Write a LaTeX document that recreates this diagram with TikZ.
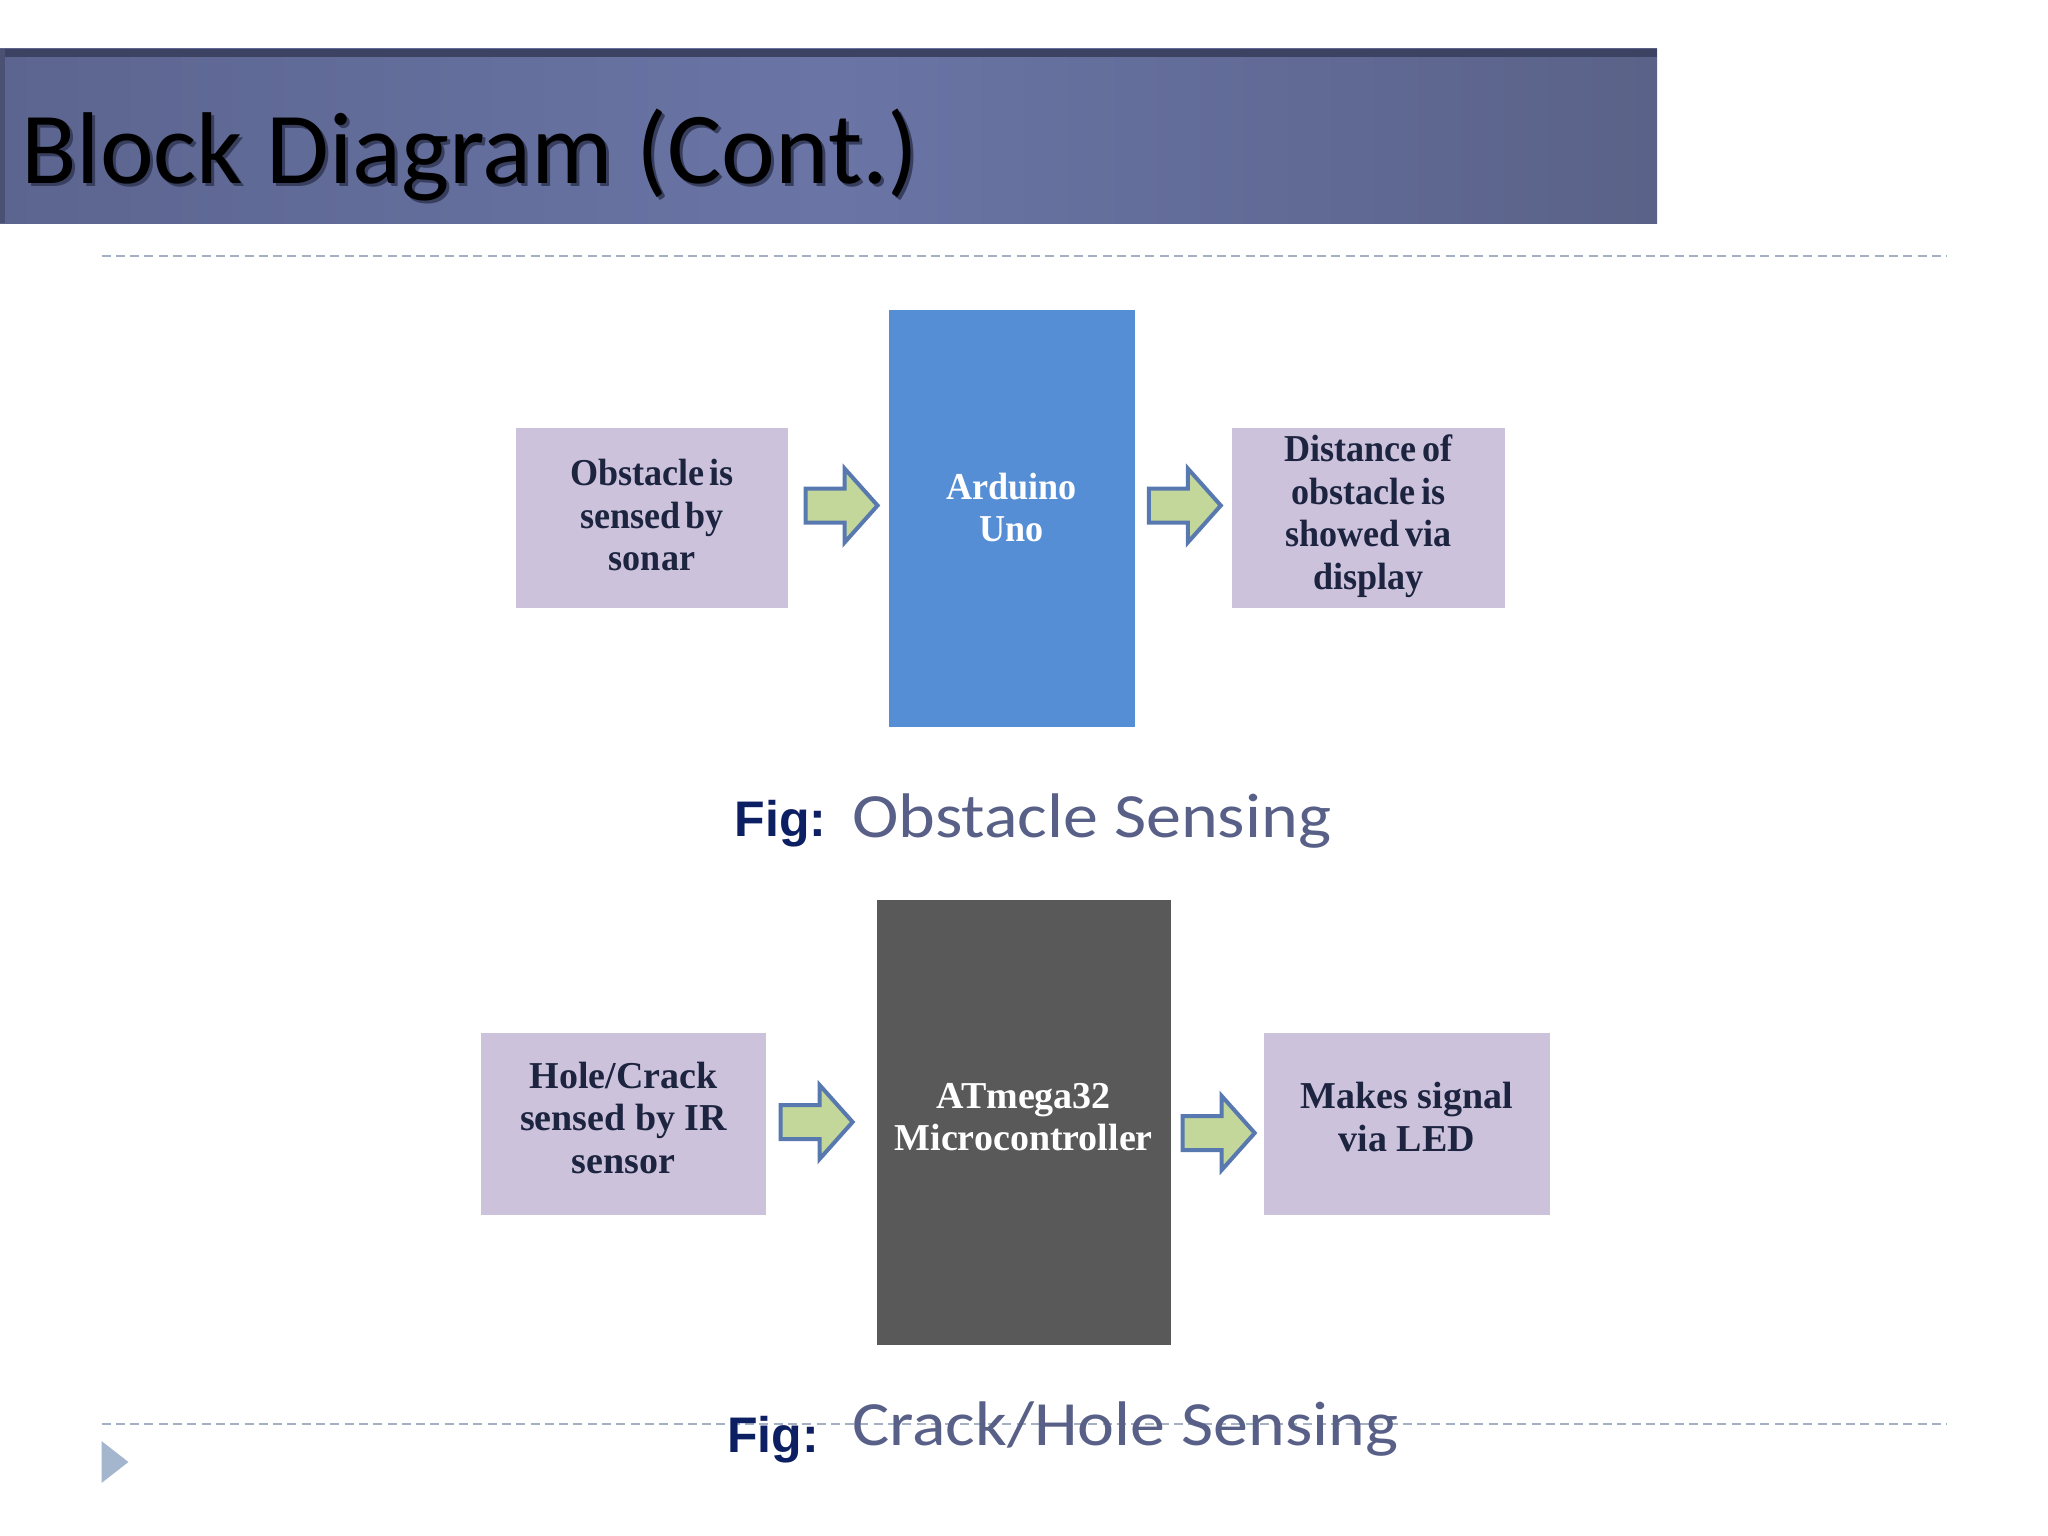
\documentclass[tikz,border=0pt]{standalone}
\usepackage{fontspec}
\setmainfont{Liberation Serif}
\newfontfamily\topserif[FakeStretch=0.95, WordSpace=0.6]{Liberation Serif}
\newfontfamily\calibf{Carlito}
\newfontfamily\arialf{Liberation Sans}
\usetikzlibrary{calc}
\definecolor{barL}{HTML}{5C658F}
\definecolor{barM}{HTML}{6A75A6}
\definecolor{barR}{HTML}{5A6288}
\definecolor{barTop}{HTML}{3C4262}
\definecolor{titleShadow}{HTML}{383E5E}
\definecolor{dashc}{HTML}{A5B1C2}
\definecolor{pinkc}{HTML}{CDC2DC}
\definecolor{boxtxt}{HTML}{1C2440}
\definecolor{ardc}{HTML}{558ED5}
\definecolor{atmc}{HTML}{595959}
\definecolor{arrowfill}{HTML}{C4D79B}
\definecolor{arrowline}{HTML}{5878B0}
\definecolor{figc}{HTML}{0D1F63}
\definecolor{capc}{HTML}{586088}
\definecolor{tric}{HTML}{A3B6CE}
\newcommand\boxfont{\fontsize{38}{42.5}\selectfont\bfseries}
\newcommand\topboxfont{\topserif\fontsize{38}{42.5}\selectfont\bfseries}
\newcommand\lift[1]{\rule[-#1pt]{0pt}{0pt}}
\tikzset{
  pinkbox/.style={fill=pinkc, minimum width=272.7pt, minimum height=180pt,
    align=center, text=boxtxt, font=\boxfont, inner sep=0pt},
  mcubox/.style={minimum width=245.8pt, minimum height=417pt,
    align=center, text=white, font=\boxfont, inner sep=0pt},
  arrowstyle/.style={fill=arrowfill, draw=arrowline, line width=4pt, line join=miter},
  pics/blockarrow/.style={code={
    \draw[arrowstyle] (0,-17) -- (39,-17) -- (39,-37) -- (72,0) -- (39,37) -- (39,17) -- (0,17) -- cycle;}},
  dashline/.style={draw=dashc, line width=2pt, dash pattern=on 9pt off 5.3pt},
  figlbl/.style={anchor=base west, inner sep=0pt, text=figc,
    font=\arialf\bfseries\fontsize{50}{50}\selectfont},
  figttl/.style={anchor=base west, inner sep=0pt, text=capc,
    font=\calibf\fontsize{63}{63}\selectfont},
  titletxt/.style={anchor=base west, inner sep=0pt,
    font=\calibf\fontsize{102}{102}\selectfont}
}
\begin{document}
\begin{tikzpicture}[x=1pt,y=-1pt]
\useasboundingbox (0,0) rectangle (2048,1536);
\fill[white] (0,0) rectangle (2048,1536);

% title bar
\node[minimum width=1657pt, minimum height=174pt, inner sep=0pt,
      left color=barL, right color=barR, middle color=barM] (bar) at (828.5,136) {};
\fill[barTop] (bar.north west) rectangle ($(bar.north east)+(0,8)$);
\fill[barL!80!black] (bar.north west) rectangle ($(bar.south west)+(5,0)$);
\node[titletxt, text=titleShadow] (titlesh) at (24,186) {Block Diagram (Cont.)};
\node[titletxt, text=black] (title) at (21,183) {Block Diagram (Cont.)};

% separators
\draw[dashline] (101.5,256) -- (1947,256);
\draw[dashline] (101.5,1424) -- (1947,1424);

% top diagram
\node[pinkbox, font=\topboxfont] (obs) at (652,518) {Obstacle is\\sensed by\\sonar\lift{6}};
\node[mcubox, fill=ardc, font=\topboxfont] (ard) at (1011.7,518.5) {Arduino\\Uno\lift{22}};
\node[pinkbox, font=\topboxfont] (dist) at (1368.5,518) {Distance of\\obstacle is\\showed via\\display\lift{12}};
\pic at ($(obs.east)+(17,-12.5)$) {blockarrow};
\pic at ($(ard.east)+(14,-13)$) {blockarrow};

\node[figlbl] (fig1) at (734.5,836) {Fig:};
\node[figttl] (cap1) at (852,837) {\scalebox{1.112}[1]{Obstacle Sensing}};

% bottom diagram
\node[pinkbox, minimum width=285.6pt, minimum height=182pt] (hole) at (623.6,1124) {Hole/Crack\\sensed by IR\\sensor\lift{13}};
\node[mcubox, fill=atmc, minimum width=293.6pt, minimum height=445pt] (atm) at (1023.7,1122.5) {ATmega32\\Microcontroller\lift{11}};
\node[pinkbox, minimum width=285.6pt, minimum height=182pt] (led) at (1406.9,1124) {Makes signal\\via LED\lift{14}};
\pic at ($(hole.east)+(14,-2)$) {blockarrow};
\pic at ($(atm.east)+(12,10.5)$) {blockarrow};

\node[figlbl] (fig2) at (727,1452) {Fig:};
\node[figttl] (cap2) at (852,1445) {\scalebox{1.11}[1]{Crack/Hole Sensing}};

% slide bullet triangle
\fill[tric] (101.5,1441) -- (128.4,1462) -- (101.5,1483) -- cycle;
\end{tikzpicture}
\end{document}
